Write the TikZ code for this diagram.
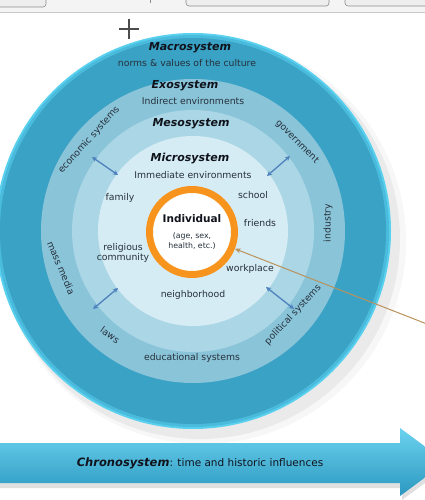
\documentclass[tikz,border=0pt]{standalone}
\usepackage{fontspec}
\setmainfont{DejaVu Sans}
\usetikzlibrary{arrows.meta, positioning}
\definecolor{cmacro}{HTML}{3AA2C5}
\definecolor{crim}{HTML}{58D0EE}
\definecolor{cexo}{HTML}{8AC4D9}
\definecolor{cmeso}{HTML}{AAD6E5}
\definecolor{cmicro}{HTML}{D5ECF4}
\definecolor{corange}{HTML}{F7941D}
\definecolor{carrow}{HTML}{4F81BD}
\definecolor{clead}{HTML}{B9935C}
\definecolor{cink}{HTML}{10131C}
\definecolor{ctext}{HTML}{26303A}
\definecolor{cbar}{HTML}{F4F4F4}
\definecolor{cbtn}{HTML}{EEEEEE}
\definecolor{cline}{HTML}{C8C8C8}
\definecolor{cchrotop}{HTML}{6CD2EF}
\definecolor{cchromid}{HTML}{3EB2D9}
\definecolor{cchrobot}{HTML}{2B98C0}
\tikzset{
  every picture/.style={line width=1pt},
  heading/.style={font=\fontsize{11}{13}\selectfont\bfseries\itshape, text=cink, inner sep=0pt},
  lbl/.style={font=\fontsize{9.3}{10.8}\selectfont, text=ctext, align=center, inner sep=0pt},
  twoway/.style={{Stealth[length=5pt, width=5pt]}-{Stealth[length=5pt, width=5pt]}, draw=carrow, line width=1.3pt},
  leader/.style={-{Stealth[length=6pt, width=5pt]}, draw=clead, line width=1pt},
  button/.style={draw=cline!70!black, fill=cbtn, rounded corners=3pt, line width=0.6pt},
}

\begin{document}
\begin{tikzpicture}[x=1pt, y=-1pt]
  \useasboundingbox (0,0) rectangle (425,500);
  \clip (0,0) rectangle (425,500);
  % window strip at the top
  \fill[cbar] (0,0) rectangle (425,13);
  \draw[cline] (0,13) -- (425,13);
  \draw[button] (-10,-10) rectangle (46,7);
  \draw[button] (186,-10) rectangle (329,6);
  \draw[button] (345,-10) rectangle (440,6);
  \draw[cline!70!black, line width=0.6pt] (150,0) -- (150,3);
  \draw[line width=2.2pt, black!70] (119,29) -- (139,29) (129,19) -- (129,39);

  % shadow and the nested systems
  \fill[black, opacity=0.03] (203,241) circle (203);
  \fill[black, opacity=0.05] (200,239) circle (200);
  \fill[crim] (193,231) circle (198);
  \fill[crim!55!cmacro] (193,231) circle (196);
  \fill[cmacro] (193,231) circle (193);
  \fill[cexo] (193,231) circle (152);
  \fill[cmeso] (193,231) circle (121);
  \fill[cmicro] (193,231) circle (95);

  \node[heading] (macro) at (190,48) {Macrosystem};
  \node[lbl] (macrotxt) at (187,63) {norms \& values of the culture};
  \node[heading] (exo) at (185,86) {Exosystem};
  \node[lbl] (exotxt) at (193,101) {Indirect environments};
  \node[heading] (meso) at (191,124) {Mesosystem};
  \node[heading] (micro) at (190,159) {Microsystem};
  \node[lbl] (microtxt) at (193,175) {Immediate environments};

  % exosystem settings
  \node[lbl, rotate=48] (econ) at (89,140) {economic systems};
  \node[lbl, rotate=-45] (govt) at (297,142) {government};
  \node[lbl, rotate=90] (industry) at (328,223) {industry};
  \node[lbl, rotate=-67] (media) at (61,268) {mass media};
  \node[lbl, rotate=-35] (laws) at (110,335) {laws};
  \node[lbl] (edu) at (192,358) {educational systems};
  \node[lbl, rotate=47] (politics) at (293,315) {political systems};

  % microsystem settings
  \node[lbl] (family) at (120,198) {family};
  \node[lbl] (school) at (253,195) {school};
  \node[lbl] (friends) at (260,223) {friends};
  \node[lbl] (religion) at (123,253) {religious\\community};
  \node[lbl] (workplace) at (250,269) {workplace};
  \node[lbl] (neighbour) at (193,295) {neighborhood};

  \node[circle, draw=corange, line width=7pt, fill=white, minimum size=85pt, inner sep=0pt] (indiv) at (192,232) {};
  \node[font=\fontsize{10.5}{12}\selectfont\bfseries, text=cink, inner sep=0pt] (indivname) at (192,219) {Individual};
  \node[lbl, font=\fontsize{7.8}{10.5}\selectfont] (indivinfo) at (192,241) {(age, sex,\\health, etc.)};

  % mesosystem links
  \coordinate (ula) at (92,157);  \coordinate (ulb) at (118,175);
  \coordinate (ura) at (290,156); \coordinate (urb) at (267,176);
  \coordinate (lla) at (93,309);  \coordinate (llb) at (118,288);
  \coordinate (lra) at (294,309); \coordinate (lrb) at (266,287);
  \draw[twoway] (ula) -- (ulb);
  \draw[twoway] (ura) -- (urb);
  \draw[twoway] (lla) -- (llb);
  \draw[twoway] (lra) -- (lrb);

  \coordinate (leadend) at (432,326);
  \draw[leader] (leadend) -- (indiv);

  % chronosystem arrow
  \fill[black, opacity=0.12] (0,447) -- (402,447) -- (402,432) -- (448,466) -- (402,500) -- (402,488) -- (0,488) -- cycle;
  \shade[top color=cchrotop, middle color=cchromid, bottom color=cchrobot] (0,443) -- (400,443) -- (400,428) -- (446,462) -- (400,496) -- (400,483) -- (0,483) -- cycle;
  \node[font=\fontsize{10.5}{12}\selectfont, text=cink, inner sep=0pt] (chrono) at (200,463) {{\fontsize{11.5}{13}\selectfont\bfseries\itshape Chronosystem}: time and historic influences};
\end{tikzpicture}
\end{document}
